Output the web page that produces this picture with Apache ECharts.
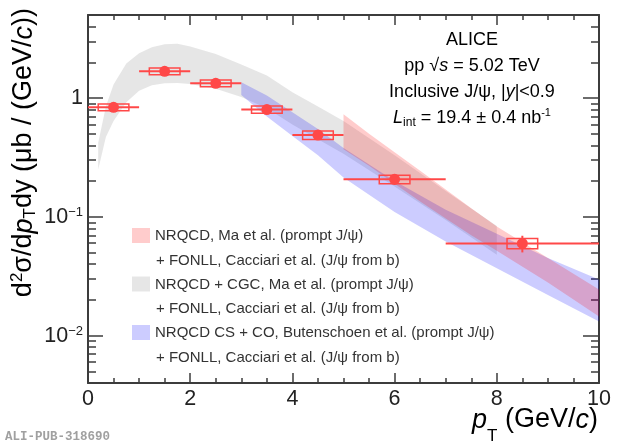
<!DOCTYPE html>
<html>
<head>
<meta charset="utf-8">
<script src="https://cdn.jsdelivr.net/npm/echarts@6/dist/echarts.min.js"></script>
<style>
  html, body { margin: 0; padding: 0; background: #fff; }
  #chart { width: 620px; height: 445px; }
</style>
</head>
<body>
<div id="chart"></div>
<script>
// ALICE inclusive J/psi, pp 5.02 TeV, |y|<0.9
const binLo = [0, 1, 2, 3, 4, 5, 7];
const binHi = [1, 2, 3, 4, 5, 7, 10];
const ptCenters = [0.5, 1.5, 2.5, 3.5, 4.5, 6, 8.5];
const xsec = [0.835, 1.68, 1.33, 0.80, 0.488, 0.207, 0.0598];
const statRel = [0.02, 0.02, 0.02, 0.03, 0.06, 0.10, 0.16];
const sysRel = [0.065, 0.065, 0.065, 0.07, 0.08, 0.08, 0.10];

// NRQCD + CGC, Ma et al. (+ FONLL)
const grayPt = [0.2, 0.35, 0.5, 0.75, 1, 1.25, 1.5, 1.75, 2, 2.5, 3, 3.5, 4, 4.5, 5, 6, 7, 8];
const grayLow = [0.25, 0.47, 0.64, 0.92, 1.15, 1.28, 1.33, 1.34, 1.31, 1.2, 1.02, 0.82, 0.6, 0.45, 0.34, 0.18, 0.094, 0.048];
const grayHigh = [0.42, 0.85, 1.3, 1.95, 2.38, 2.68, 2.83, 2.86, 2.72, 2.35, 1.92, 1.55, 1.12, 0.85, 0.64, 0.33, 0.165, 0.084];

// NRQCD CS + CO, Butenschoen et al. (+ FONLL)
const bluePt = [3, 3.5, 4, 4.5, 5, 6, 7, 8, 9, 10];
const blueLow = [1.06, 0.70, 0.48, 0.33, 0.215, 0.11, 0.062, 0.037, 0.022, 0.0132];
const blueHigh = [1.36, 1.05, 0.76, 0.55, 0.38, 0.2, 0.115, 0.072, 0.045, 0.0297];

// NRQCD, Ma et al. (+ FONLL)
const redPt = [5, 5.5, 6, 6.5, 7, 7.5, 8, 9, 10];
const redLow = [0.37, 0.27, 0.19, 0.135, 0.097, 0.07, 0.052, 0.028, 0.0145];
const redHigh = [0.73, 0.5, 0.35, 0.245, 0.17, 0.118, 0.083, 0.045, 0.0245];

const majorY = [0.01, 0.1, 1];
const minorY = [0.005, 0.006, 0.007, 0.008, 0.009,
  0.02, 0.03, 0.04, 0.05, 0.06, 0.07, 0.08, 0.09,
  0.2, 0.3, 0.4, 0.5, 0.6, 0.7, 0.8, 0.9, 2, 3, 4, 5];

const LOG = v => Math.log10(v);
const FONT = '"Liberation Sans", Arial, sans-serif';
const AXIS_COLOR = '#3c3c3c';
const PT_COLOR = '#ff4848';

const myChart = echarts.init(document.getElementById('chart'));

const bandSeries = (pt, low, high, color) => ({
  type: 'custom',
  silent: true,
  data: [0],
  renderItem: (params, api) => {
    const pts = [];
    pt.forEach((x, i) => pts.push(api.coord([x, LOG(high[i])])));
    for (let i = pt.length - 1; i >= 0; i--) pts.push(api.coord([pt[i], LOG(low[i])]));
    return { type: 'polygon', shape: { points: pts }, style: { fill: color } };
  }
});

const pointRows = ptCenters.map((x, i) => [
  x, LOG(xsec[i]), binLo[i], binHi[i],
  LOG(xsec[i] * (1 - statRel[i])), LOG(xsec[i] * (1 + statRel[i])),
  LOG(xsec[i] * (1 - sysRel[i])), LOG(xsec[i] * (1 + sysRel[i]))
]);

const yLabel = v => {
  if (Math.abs(v) < 1e-9) return '{b|1}';
  return '{b|10}{s|\u2212' + Math.round(-v) + '}';
};

const yAxisBase = (pos, ticks, len, labels) => ({
  type: 'value',
  position: pos,
  min: LOG(0.004),
  max: LOG(5),
  axisLine: { show: labels, onZero: false, lineStyle: { color: AXIS_COLOR, width: 2 } },
  axisTick: { show: true, inside: true, length: len, customValues: ticks.map(LOG),
    lineStyle: { color: AXIS_COLOR, width: 1.5 } },
  axisLabel: labels && pos === 'left' ? {
    show: true, margin: 5, customValues: majorY.map(LOG), formatter: yLabel,
    rich: {
      b: { fontFamily: FONT, fontSize: 21.5, color: '#222', lineHeight: 22 },
      s: { fontFamily: FONT, fontSize: 13, color: '#222', lineHeight: 13, verticalAlign: 'top' }
    }
  } : { show: false },
  splitLine: { show: false }
});

const xAxisBase = (pos, labels) => ({
  type: 'value',
  position: pos,
  min: 0,
  max: 10,
  interval: 2,
  axisLine: { show: true, onZero: false, lineStyle: { color: AXIS_COLOR, width: 2 } },
  axisTick: { show: true, inside: true, length: 10, lineStyle: { color: AXIS_COLOR, width: 1.5 } },
  minorTick: { show: true, splitNumber: 4, length: 5, lineStyle: { color: AXIS_COLOR, width: 1.5 } },
  axisLabel: { show: labels, margin: 5, fontFamily: FONT, fontSize: 21.5, color: '#222' },
  splitLine: { show: false },
  minorSplitLine: { show: false }
});

const legendRows = [
  { color: '#ffcccc', lines: ['NRQCD, Ma et al. (prompt J/\u03c8)', '+ FONLL, Cacciari et al. (J/\u03c8 from b)'] },
  { color: '#e6e6e6', lines: ['NRQCD + CGC, Ma et al. (prompt J/\u03c8)', '+ FONLL, Cacciari et al. (J/\u03c8 from b)'] },
  { color: '#ccccff', lines: ['NRQCD CS + CO, Butenschoen et al. (prompt J/\u03c8)', '+ FONLL, Cacciari et al. (J/\u03c8 from b)'] }
];

const graphics = [];
legendRows.forEach((row, i) => {
  const y0 = 236 + i * 48.5;
  graphics.push({ type: 'rect', left: 132, top: y0 - 8, shape: { width: 18, height: 15 }, style: { fill: row.color } });
  graphics.push({ type: 'text', x: 155, y: y0, style: { text: row.lines[0], font: '15px ' + FONT, fill: '#333', textVerticalAlign: 'middle' } });
  graphics.push({ type: 'text', x: 156, y: y0 + 24.5, style: { text: row.lines[1], font: '15px ' + FONT, fill: '#333', textVerticalAlign: 'middle' } });
});

const richAnno = {
  n: { fontFamily: FONT, fontSize: 18, color: '#333', lineHeight: 22 },
  i: { fontFamily: FONT, fontSize: 18, fontStyle: 'italic', color: '#333', lineHeight: 22 },
  sub: { fontFamily: FONT, fontSize: 12, color: '#333', lineHeight: 12, verticalAlign: 'bottom' },
  sup: { fontFamily: FONT, fontSize: 11, color: '#333', lineHeight: 11, verticalAlign: 'top' }
};
const annoLines = [
  '{n|ALICE}',
  '{n|pp \u221a}{i|s}{n| = 5.02 TeV}',
  '{n|Inclusive J/\u03c8, |}{i|y}{n||<0.9}',
  '{i|L}{sub|int}{n| = 19.4 \u00b1 0.4 nb}{sup|-1}'
];
annoLines.forEach((t, i) => {
  graphics.push({ type: 'text', x: 472, y: 40 + i * 26, style: { text: t, rich: richAnno, textAlign: 'center', textVerticalAlign: 'middle' } });
});

// y axis title (rotated)
graphics.push({
  type: 'text', x: 24, y: 8, rotation: Math.PI / 2,
  style: {
    text: '{n|d}{sup|2}{n|\u03c3/d}{i|p}{sub|T}{n|dy (\u03bcb / (GeV/}{i|c}{n|))}',
    textAlign: 'right', textVerticalAlign: 'middle',
    rich: {
      n: { fontFamily: FONT, fontSize: 27, color: '#222', lineHeight: 30 },
      i: { fontFamily: FONT, fontSize: 27, fontStyle: 'italic', color: '#222', lineHeight: 30 },
      sup: { fontFamily: FONT, fontSize: 17, color: '#222', lineHeight: 17, verticalAlign: 'top' },
      sub: { fontFamily: FONT, fontSize: 17, color: '#222', lineHeight: 17, verticalAlign: 'bottom' }
    }
  }
});

// x axis title
graphics.push({
  type: 'text', x: 598, y: 420,
  style: {
    text: '{i|p}{sub|T}{n| (GeV/}{i|c}{n|)}',
    textAlign: 'right', textVerticalAlign: 'middle',
    rich: {
      n: { fontFamily: FONT, fontSize: 27, color: '#222', lineHeight: 30 },
      i: { fontFamily: FONT, fontSize: 27, fontStyle: 'italic', color: '#222', lineHeight: 30 },
      sub: { fontFamily: FONT, fontSize: 17, color: '#222', lineHeight: 17, verticalAlign: 'bottom', padding: [0, 0, -10, 0] }
    }
  }
});

graphics.push({
  type: 'text', x: 5, y: 437,
  style: { text: 'ALI-PUB-318690', font: 'bold 12.5px "Liberation Mono", monospace', fill: '#a0a0a0', textVerticalAlign: 'middle' }
});

const option = {
  animation: false,
  backgroundColor: '#fff',
  grid: { left: 88, right: 21, top: 15, bottom: 62 },
  xAxis: [xAxisBase('bottom', true), xAxisBase('top', false)],
  yAxis: [
    yAxisBase('left', majorY, 15, true),
    yAxisBase('left', minorY, 8, false),
    yAxisBase('right', majorY, 16, true),
    yAxisBase('right', minorY, 8, false)
  ],
  graphic: graphics,
  series: [
    bandSeries(grayPt, grayLow, grayHigh, 'rgba(128,128,128,0.2)'),
    bandSeries(bluePt, blueLow, blueHigh, 'rgba(0,0,255,0.2)'),
    bandSeries(redPt, redLow, redHigh, 'rgba(255,0,0,0.2)'),
    {
      type: 'custom',
      data: pointRows,
      renderItem: (params, api) => {
        const x = api.value(0), y = api.value(1);
        const l = api.coord([api.value(2), y]), r = api.coord([api.value(3), y]);
        const sT = api.coord([x, api.value(5)]), sB = api.coord([x, api.value(4)]);
        const bTL = api.coord([x - 0.3, api.value(7)]), bBR = api.coord([x + 0.3, api.value(6)]);
        const ls = { stroke: PT_COLOR, lineWidth: 2 };
        return {
          type: 'group',
          children: [
            { type: 'line', shape: { x1: l[0], y1: l[1], x2: r[0], y2: r[1] }, style: ls },
            { type: 'line', shape: { x1: sT[0], y1: sT[1], x2: sB[0], y2: sB[1] }, style: ls },
            { type: 'rect', shape: { x: bTL[0], y: bTL[1], width: bBR[0] - bTL[0], height: bBR[1] - bTL[1] },
              style: { fill: 'none', stroke: PT_COLOR, lineWidth: 1.5 } }
          ]
        };
      }
    },
    {
      type: 'scatter',
      symbol: 'circle',
      symbolSize: 11,
      itemStyle: { color: PT_COLOR, opacity: 1 },
      data: ptCenters.map((x, i) => [x, LOG(xsec[i])])
    }
  ]
};

myChart.setOption(option);
</script>
</body>
</html>
